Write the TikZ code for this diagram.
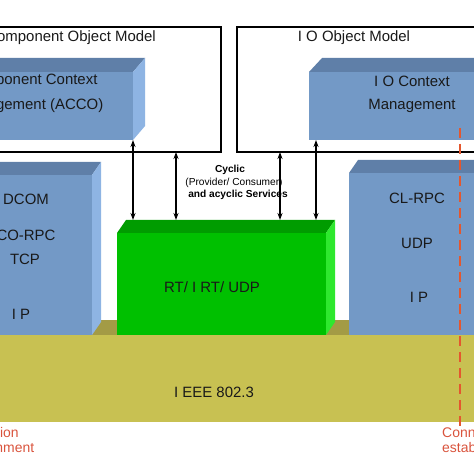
\documentclass[tikz,border=0pt]{standalone}
\usepackage{fontspec}
\setmainfont{Liberation Sans}
\usetikzlibrary{arrows.meta}
\definecolor{bfront}{HTML}{7399C6}
\definecolor{btop}{HTML}{5F7FA8}
\definecolor{bside}{HTML}{8EB4E3}
\definecolor{gfront}{HTML}{00C000}
\definecolor{gtop}{HTML}{009C00}
\definecolor{gside}{HTML}{2EE82E}
\definecolor{yfront}{HTML}{C8C152}
\definecolor{ytop}{HTML}{A39B45}
\definecolor{redtxt}{HTML}{D9533C}
\definecolor{reddash}{HTML}{E4572E}
\newcommand\boxthreed[9]{%
 \pgfmathsetmacro\bxa{#1+(#5)}\pgfmathsetmacro\bxb{#3+(#5)}%
 \pgfmathsetmacro\byt{#2+(#6)}\pgfmathsetmacro\byb{#4+(#6)}%
 \fill[#8] (#1,#2) -- (\bxa,\byt) -- (\bxb,\byt) -- (#3,#2) -- cycle;
 \fill[#9] (#3,#2) -- (\bxb,\byt) -- (\bxb,\byb) -- (#3,#4) -- cycle;
 \fill[#7] (#1,#2) rectangle (#3,#4);}
\tikzset{
 lbl/.style={font=\fontsize{15}{18}\selectfont, text=black!90, inner sep=0pt},
 small/.style={font=\fontsize{10.2}{12}\selectfont\bfseries, inner sep=0pt},
 redlbl/.style={font=\fontsize{14}{16}\selectfont, text=redtxt, inner sep=0pt, anchor=west},
 frame/.style={draw=black, line width=2.2bp, fill=white},
 link/.style={line width=1.6bp, {Stealth[length=7bp,width=5bp]}-{Stealth[length=7bp,width=5bp]}},
 conn/.style={draw=reddash, line width=2bp, dash pattern=on 10bp off 6bp}
}
\begin{document}
\begin{tikzpicture}[x=1bp,y=-1bp]
\useasboundingbox (0,0) rectangle (474,474);
\clip (0,0) rectangle (474,474);
% IEEE slab
\fill[ytop] (-20,335) -- (-12,320) -- (494,320) -- (494,335) -- cycle;
\fill[yfront] (-20,335) rectangle (494,422);
% object model frames
\draw[frame] (-20,27) rectangle (221,152);
\draw[frame] (237,27) rectangle (494,152);
% context boxes
\boxthreed{-60}{72}{133}{140}{12}{-14}{bfront}{btop}{bside}
\boxthreed{309}{72}{540}{140}{13}{-14}{bfront}{btop}{bside}
% stacks
\boxthreed{-60}{175}{92}{335}{9}{-13}{bfront}{btop}{bside}
\boxthreed{117}{233}{326}{335}{9}{-13}{gfront}{gtop}{gside}
\boxthreed{349}{173}{540}{335}{9}{-13}{bfront}{btop}{bside}
% connection points
\coordinate (accob) at (133,140);
\coordinate (comb) at (176,152);
\coordinate (iob) at (280,152);
\coordinate (ioctxb) at (316,140);
\coordinate (g1) at (133,220);
\coordinate (g2) at (176,220);
\coordinate (g3) at (280,220);
\coordinate (g4) at (316,220);
\draw[link] (accob) -- (g1);
\draw[link] (comb) -- (g2);
\draw[link] (iob) -- (g3);
\draw[link] (ioctxb) -- (g4);
% connection establishment line
\coordinate (dtop) at (460,128);
\coordinate (dbot) at (460,430);
\draw[conn] (dtop) -- (dbot);
% texts
\node[lbl, anchor=east] (com) at (156,38) {Component Object Model};
\node[lbl] (iom) at (354,38) {I O Object Model};
\node[lbl] (acco1) at (31,81) {Component Context};
\node[lbl] (acco2) at (31,106) {Management (ACCO)};
\node[lbl] (ioc1) at (412,81) {I O Context};
\node[lbl] (ioc2) at (412,106) {Management};
\node[lbl] (dcom) at (26,199) {DCOM};
\node[lbl] (corpc) at (26,235) {CO-RPC};
\node[lbl] (tcp) at (25,259) {TCP};
\node[lbl] (ipl) at (21,314) {I P};
\node[lbl] (rt) at (212,287) {RT/ I RT/ UDP};
\node[lbl] (clrpc) at (417,198) {CL-RPC};
\node[lbl] (udp) at (417,243) {UDP};
\node[lbl] (ipr) at (419,297) {I P};
\node[lbl] (ieee) at (214,392) {I EEE 802.3};
\node[small] (cy1) at (230,170) {Cyclic};
\node[small, font=\fontsize{10.2}{12}\selectfont] (cy2) at (234,183) {(Provider/ Consumer)};
\node[small] (cy3) at (238,195) {and acyclic Services};
\node[redlbl] (lc1) at (-52,433) {Connection};
\node[redlbl] (lc2) at (-52,448) {establishment};
\node[redlbl] (rc1) at (442,433) {Connection};
\node[redlbl] (rc2) at (442,448) {establishment};
\end{tikzpicture}
\end{document}
